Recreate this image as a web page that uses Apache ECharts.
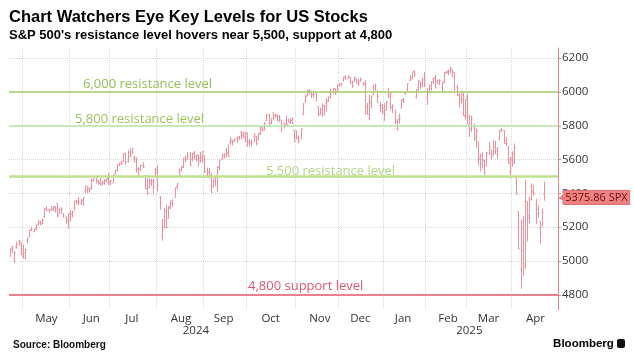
<!DOCTYPE html>
<html><head><meta charset="utf-8">
<script src="https://cdn.jsdelivr.net/npm/echarts@6/dist/echarts.min.js"></script>
<style>html,body{margin:0;padding:0;background:#fff}#c{width:634px;height:355px}</style>
</head><body><div id="c"></div>
<script>
// ---- Data (S&P 500 daily OHLC) ----
const dates = [
'2024-04-23','2024-04-24','2024-04-25','2024-04-26','2024-04-29','2024-04-30',
'2024-05-01','2024-05-02','2024-05-03','2024-05-06','2024-05-07','2024-05-08','2024-05-09','2024-05-10','2024-05-13','2024-05-14','2024-05-15','2024-05-16','2024-05-17','2024-05-20','2024-05-21','2024-05-22','2024-05-23','2024-05-24','2024-05-28','2024-05-29','2024-05-30','2024-05-31',
'2024-06-03','2024-06-04','2024-06-05','2024-06-06','2024-06-07','2024-06-10','2024-06-11','2024-06-12','2024-06-13','2024-06-14','2024-06-17','2024-06-18','2024-06-20','2024-06-21','2024-06-24','2024-06-25','2024-06-26','2024-06-27','2024-06-28',
'2024-07-01','2024-07-02','2024-07-03','2024-07-05','2024-07-08','2024-07-09','2024-07-10','2024-07-11','2024-07-12','2024-07-15','2024-07-16','2024-07-17','2024-07-18','2024-07-19','2024-07-22','2024-07-23','2024-07-24','2024-07-25','2024-07-26','2024-07-29','2024-07-30','2024-07-31',
'2024-08-01','2024-08-02','2024-08-05','2024-08-06','2024-08-07','2024-08-08','2024-08-09','2024-08-12','2024-08-13','2024-08-14','2024-08-15','2024-08-16','2024-08-19','2024-08-20','2024-08-21','2024-08-22','2024-08-23','2024-08-26','2024-08-27','2024-08-28','2024-08-29','2024-08-30',
'2024-09-03','2024-09-04','2024-09-05','2024-09-06','2024-09-09','2024-09-10','2024-09-11','2024-09-12','2024-09-13','2024-09-16','2024-09-17','2024-09-18','2024-09-19','2024-09-20','2024-09-23','2024-09-24','2024-09-25','2024-09-26','2024-09-27','2024-09-30',
'2024-10-01','2024-10-02','2024-10-03','2024-10-04','2024-10-07','2024-10-08','2024-10-09','2024-10-10','2024-10-11','2024-10-14','2024-10-15','2024-10-16','2024-10-17','2024-10-18','2024-10-21','2024-10-22','2024-10-23','2024-10-24','2024-10-25','2024-10-28','2024-10-29','2024-10-30','2024-10-31',
'2024-11-01','2024-11-04','2024-11-05','2024-11-06','2024-11-07','2024-11-08','2024-11-11','2024-11-12','2024-11-13','2024-11-14','2024-11-15','2024-11-18','2024-11-19','2024-11-20','2024-11-21','2024-11-22','2024-11-25','2024-11-26','2024-11-27','2024-11-29',
'2024-12-02','2024-12-03','2024-12-04','2024-12-05','2024-12-06','2024-12-09','2024-12-10','2024-12-11','2024-12-12','2024-12-13','2024-12-16','2024-12-17','2024-12-18','2024-12-19','2024-12-20','2024-12-23','2024-12-24','2024-12-26','2024-12-27','2024-12-30','2024-12-31',
'2025-01-02','2025-01-03','2025-01-06','2025-01-07','2025-01-08','2025-01-10','2025-01-13','2025-01-14','2025-01-15','2025-01-16','2025-01-17','2025-01-21','2025-01-22','2025-01-23','2025-01-24','2025-01-27','2025-01-28','2025-01-29','2025-01-30','2025-01-31',
'2025-02-03','2025-02-04','2025-02-05','2025-02-06','2025-02-07','2025-02-10','2025-02-11','2025-02-12','2025-02-13','2025-02-14','2025-02-18','2025-02-19','2025-02-20','2025-02-21','2025-02-24','2025-02-25','2025-02-26','2025-02-27','2025-02-28',
'2025-03-03','2025-03-04','2025-03-05','2025-03-06','2025-03-07','2025-03-10','2025-03-11','2025-03-12','2025-03-13','2025-03-14','2025-03-17','2025-03-18','2025-03-19','2025-03-20','2025-03-21','2025-03-24','2025-03-25','2025-03-26','2025-03-27','2025-03-28','2025-03-31',
'2025-04-01','2025-04-02','2025-04-03','2025-04-04','2025-04-07','2025-04-08','2025-04-09','2025-04-10','2025-04-11','2025-04-14','2025-04-15','2025-04-16','2025-04-17','2025-04-21','2025-04-22','2025-04-23'
];
// [open, high, low, close]
const ohlc = [
[5028,5076,5027,5070],[5084,5089,5047,5071],[5019,5057,4990,5048],[5084,5114,5073,5100],[5114,5124,5089,5116],[5103,5110,5035,5036],
[5029,5096,5013,5018],[5049,5073,5011,5064],[5122,5139,5102,5128],[5142,5181,5142,5181],[5187,5200,5178,5187],[5173,5192,5170,5188],[5189,5215,5180,5214],[5225,5240,5209,5223],[5234,5238,5211,5221],[5221,5250,5217,5247],[5263,5311,5256,5308],[5310,5325,5296,5297],[5303,5305,5283,5303],[5305,5325,5299,5308],[5298,5324,5297,5321],[5319,5323,5287,5307],[5340,5341,5257,5268],[5282,5311,5278,5305],[5315,5315,5280,5306],[5278,5282,5256,5267],[5259,5264,5222,5235],[5244,5280,5191,5278],
[5283,5302,5234,5283],[5278,5298,5257,5291],[5314,5354,5298,5354],[5357,5362,5335,5352],[5343,5376,5331,5347],[5341,5365,5331,5361],[5353,5376,5327,5375],[5409,5447,5400,5421],[5441,5441,5403,5434],[5424,5432,5404,5431],[5431,5488,5421,5473],[5477,5487,5471,5487],[5499,5506,5459,5473],[5479,5479,5452,5465],[5459,5490,5448,5448],[5461,5472,5446,5469],[5460,5483,5451,5478],[5473,5490,5467,5483],[5488,5523,5451,5460],
[5471,5479,5446,5475],[5461,5510,5460,5509],[5514,5539,5513,5537],[5537,5570,5531,5567],[5572,5583,5562,5572],[5585,5590,5570,5577],[5591,5635,5587,5634],[5635,5642,5570,5585],[5590,5655,5583,5615],[5638,5666,5614,5631],[5644,5667,5631,5667],[5610,5622,5584,5588],[5608,5614,5522,5545],[5543,5557,5497,5505],[5544,5570,5530,5564],[5565,5585,5550,5555],[5505,5508,5425,5427],[5428,5491,5390,5399],[5433,5488,5430,5459],[5477,5487,5444,5464],[5479,5487,5396,5436],[5505,5551,5493,5522],
[5537,5567,5410,5446],[5377,5383,5302,5347],[5151,5250,5120,5186],[5207,5312,5193,5240],[5293,5331,5195,5199],[5253,5326,5250,5319],[5313,5358,5306,5344],[5358,5364,5322,5344],[5377,5435,5376,5434],[5443,5463,5421,5455],[5501,5546,5497,5543],[5531,5563,5531,5554],[5557,5608,5548,5608],[5602,5620,5585,5597],[5603,5643,5597,5621],[5637,5643,5560,5570],[5603,5641,5589,5634],[5639,5651,5602,5616],[5602,5631,5591,5625],[5624,5628,5560,5592],[5607,5646,5583,5592],[5612,5651,5582,5648],
[5623,5623,5521,5529],[5506,5552,5503,5520],[5528,5551,5488,5503],[5507,5522,5402,5408],[5442,5484,5434,5471],[5490,5497,5442,5496],[5496,5560,5406,5554],[5558,5600,5536,5596],[5605,5636,5601,5626],[5615,5636,5605,5633],[5655,5671,5614,5634],[5641,5690,5615,5618],[5703,5733,5686,5714],[5709,5716,5683,5703],[5711,5725,5704,5718],[5727,5735,5699,5733],[5733,5741,5715,5722],[5762,5767,5721,5745],[5755,5765,5730,5738],[5727,5763,5703,5762],
[5757,5758,5675,5709],[5698,5720,5678,5709],[5698,5718,5675,5699],[5737,5753,5702,5751],[5737,5739,5683,5696],[5719,5757,5714,5751],[5752,5796,5745,5792],[5778,5795,5765,5780],[5775,5822,5773,5815],[5830,5871,5829,5859],[5866,5870,5804,5815],[5816,5843,5809,5843],[5875,5879,5836,5841],[5860,5872,5848,5865],[5857,5866,5824,5853],[5833,5863,5822,5851],[5834,5835,5762,5797],[5815,5817,5784,5809],[5826,5862,5799,5808],[5833,5842,5823,5823],[5819,5847,5811,5833],[5832,5851,5810,5813],[5775,5775,5703,5705],
[5723,5772,5723,5729],[5725,5742,5696,5712],[5722,5783,5722,5782],[5864,5933,5864,5929],[5947,5983,5935,5973],[5976,6012,5976,5996],[6008,6017,5986,6001],[6003,6009,5963,5984],[5985,6008,5965,5985],[5989,5993,5946,5949],[5912,5915,5854,5871],[5867,5908,5865,5893],[5865,5932,5853,5917],[5918,5921,5860,5917],[5934,5963,5884,5949],[5944,5973,5941,5969],[5993,6020,5963,5987],[6000,6025,5992,6021],[6015,6020,5984,5999],[6004,6044,6003,6032],
[6040,6053,6035,6047],[6042,6052,6033,6050],[6069,6089,6061,6087],[6089,6099,6075,6075],[6082,6099,6079,6090],[6084,6089,6048,6053],[6058,6066,6024,6034],[6060,6092,6060,6085],[6074,6080,6051,6051],[6068,6078,6035,6051],[6063,6085,6059,6074],[6053,6057,6035,6051],[6048,6070,5867,5872],[5912,5935,5866,5867],[5843,5982,5832,5931],[5941,5978,5902,5974],[5985,6040,5981,6040],[6024,6049,6007,6037],[6006,6007,5932,5971],[5920,5941,5879,5907],[5920,5929,5868,5882],
[5903,5935,5829,5869],[5891,5949,5888,5942],[5983,6021,5961,5975],[5994,6000,5890,5909],[5910,5927,5874,5918],[5890,5890,5809,5827],[5783,5838,5773,5837],[5859,5871,5812,5843],[5905,5958,5904,5950],[5955,5964,5935,5937],[5992,6001,5984,5997],[6015,6051,6006,6049],[6069,6100,6064,6086],[6076,6118,6074,6119],[6121,6128,6088,6101],[5969,6017,5962,6012],[6026,6069,6001,6068],[6058,6063,6018,6039],[6050,6086,6028,6071],[6096,6120,6030,6041],
[5969,6022,5923,5995],[5998,6042,5990,6037],[6021,6062,6007,6061],[6072,6084,6047,6084],[6083,6101,6019,6026],[6060,6073,6048,6066],[6049,6076,6042,6068],[6025,6063,6003,6052],[6060,6117,6052,6115],[6115,6127,6107,6115],[6121,6129,6099,6129],[6118,6147,6111,6144],[6134,6134,6085,6117],[6114,6114,6008,6013],[6026,6043,5977,5983],[5982,5992,5908,5955],[5970,6009,5933,5956],[5981,5994,5858,5861],[5857,5959,5837,5955],
[5968,5987,5810,5850],[5811,5865,5733,5778],[5781,5860,5762,5843],[5786,5812,5711,5739],[5726,5783,5667,5770],[5705,5705,5565,5615],[5604,5636,5528,5572],[5624,5642,5546,5599],[5594,5598,5505,5522],[5563,5645,5563,5639],[5635,5704,5629,5675],[5655,5655,5598,5615],[5632,5716,5622,5675],[5646,5711,5632,5663],[5630,5670,5604,5668],[5718,5775,5718,5768],[5775,5786,5764,5777],[5771,5772,5694,5712],[5696,5732,5682,5693],[5679,5679,5572,5581],[5527,5612,5489,5612],
[5597,5650,5558,5633],[5581,5695,5572,5671],[5493,5501,5390,5397],[5292,5292,5069,5074],[4953,5246,4835,5062],[5193,5267,4910,4982],[4967,5482,4950,5457],[5353,5353,5115,5268],[5256,5381,5220,5363],[5441,5460,5358,5406],[5412,5450,5386,5397],[5335,5367,5220,5276],[5305,5328,5255,5283],[5232,5232,5101,5158],[5208,5309,5207,5288],[5395,5470,5357,5375.86]
];
const levelValues = [6000, 5800, 5500, 4800];
const levelTexts = ['6,000 resistance level', '5,800 resistance level', '5,500 resistance level', '4,800 support level'];
const tickerName = 'SPX';
const monthNames = ['Jan','Feb','Mar','Apr','May','Jun','Jul','Aug','Sep','Oct','Nov','Dec'];

// ---- Presentation ----
const padDays = 6;
const levelStyles = [
  {color:'#a3cf68', width:1.6, text:'#93bd55', dx:74, dy:1},
  {color:'#b4e4a2', width:1.6, text:'#99c45c', dx:66, dy:0},
  {color:'#bfe08e', width:2.6, text:'#b3d585', dx:257, dy:-1},
  {color:'#e8808f', width:2.2, text:'#d9566f', dx:239, dy:2}
];
const barColor = '#ec8f9e';

const cats = dates.concat(Array.from({length: padDays}, (_, i) => 'pad' + (i + 1)));
const lastYear = dates[dates.length - 1].slice(0, 4);
const yearOf = i => i < dates.length ? dates[i].slice(0, 4) : lastYear;

const monthStart = new Set();
for (let i = 1; i < dates.length; i++) if (dates[i].slice(0, 7) !== dates[i - 1].slice(0, 7)) monthStart.add(i);
const monthLabel = new Map();
const seen = {};
dates.forEach((d, i) => {
  const k = d.slice(0, 7);
  if (!(k in seen)) seen[k] = +d.slice(8) < 16;
  if (seen[k] === true && +d.slice(8) >= 16) { seen[k] = 'done'; monthLabel.set(i, monthNames[+d.slice(5, 7) - 1]); }
});
const yearRange = {};
cats.forEach((c, i) => { const y = yearOf(i); if (!yearRange[y]) yearRange[y] = [i, i]; yearRange[y][1] = i; });
const yearLabel = new Map(Object.entries(yearRange).map(([y, r]) => [Math.floor((r[0] + r[1]) / 2), y]));

const seriesData = ohlc.map((r, i) => [i, r[0], r[1], r[2], r[3]]);
const lastClose = ohlc[ohlc.length - 1][3];

function renderItem(params, api) {
  const x = api.value(0);
  const o = api.coord([x, api.value(1)]);
  const h = api.coord([x, api.value(2)]);
  const l = api.coord([x, api.value(3)]);
  const c = api.coord([x, api.value(4)]);
  const px = Math.round(o[0]) + 0.5;
  return {type: 'group', children: [
    {type: 'line', shape: {x1: px, y1: h[1], x2: px, y2: l[1]}, style: {stroke: barColor, lineWidth: 1, fill: null}},
    {type: 'line', shape: {x1: px - 1.2, y1: o[1], x2: px, y2: o[1]}, style: {stroke: barColor, lineWidth: 1, fill: null}},
    {type: 'line', shape: {x1: px, y1: c[1], x2: px + 1.2, y2: c[1]}, style: {stroke: barColor, lineWidth: 1, fill: null}}
  ]};
}

const font = 'Open Sans';
const markData = levelValues.map((v, i) => ({
  yAxis: v,
  lineStyle: {color: levelStyles[i].color, width: levelStyles[i].width, type: 'solid'},
  label: {show: true, position: 'insideStartTop', formatter: levelTexts[i],
    color: levelStyles[i].text, fontFamily: font, fontSize: 13, lineHeight: 13,
    distance: [levelStyles[i].dx, levelStyles[i].dy]}
}));
markData.push({
  yAxis: lastClose,
  lineStyle: {color: 'rgba(0,0,0,0)', width: 1},
  label: {show: true, position: 'end', distance: 0,
    formatter: '{a|◀}{b|' + lastClose.toFixed(2) + ' ' + tickerName + '}',
    rich: {
      a: {color: '#e77b7f', fontSize: 8, fontFamily: 'DejaVu Sans', padding: [0, -1, 0, 0]},
      b: {color: '#6e0c0c', backgroundColor: '#ec8282', borderColor: '#d0585b', borderWidth: 0.5,
          padding: [2, 2, 1, 2], fontFamily: font, fontSize: 11, lineHeight: 13}
    }}
});

const chart = echarts.init(document.getElementById('c'), null, {renderer: 'canvas'});
chart.setOption({
  animation: false,
  backgroundColor: '#fff',
  title: [
    {text: 'Chart Watchers Eye Key Levels for US Stocks', left: 9, top: 7, padding: 0,
      textStyle: {fontFamily: 'Liberation Sans', fontWeight: 'bold', fontSize: 16.5, lineHeight: 20, color: '#000'}},
    {text: "S&P 500's resistance level hovers near 5,500, support at 4,800", left: 9, top: 27, padding: 0,
      textStyle: {fontFamily: 'Liberation Sans', fontWeight: 'bold', fontSize: 13, lineHeight: 16, color: '#000'}},
    {text: 'Source: Bloomberg', left: 13, top: 339, padding: 0,
      textStyle: {fontFamily: 'Liberation Sans', fontWeight: 'bold', fontSize: 10, lineHeight: 12, color: '#111'}},
    {text: 'Bloomberg {i|}', right: 9, top: 336.5, padding: 0,
      textStyle: {fontFamily: 'Liberation Sans', fontWeight: 'bold', fontSize: 11.5, lineHeight: 14, color: '#000',
        rich: {i: {backgroundColor: '#111', width: 8, height: 9, borderRadius: 2}}}}
  ],
  grid: {left: 9, right: 76, top: 48, bottom: 45, containLabel: false, outerBoundsMode: 'none'},
  xAxis: [{
    type: 'category', data: cats, boundaryGap: true,
    axisLine: {show: false}, axisTick: {show: false},
    splitLine: {show: true, interval: (i) => monthStart.has(i), lineStyle: {color: '#d9d9d9', type: 'dotted', width: 1}},
    axisLabel: {interval: (i) => monthLabel.has(i), formatter: (v, i) => monthLabel.get(i) || '',
      color: '#333', fontFamily: font, fontSize: 11.5, margin: 3, hideOverlap: false}
  }, {
    type: 'category', data: cats, boundaryGap: true, position: 'bottom', offset: 12,
    axisLine: {show: false}, axisTick: {show: false}, splitLine: {show: false},
    axisLabel: {interval: (i) => yearLabel.has(i), formatter: (v, i) => yearLabel.get(i) || '',
      color: '#333', fontFamily: font, fontSize: 11.5, margin: 3, hideOverlap: false}
  }],
  yAxis: {
    type: 'value', position: 'right', min: 4710, max: 6260, splitNumber: 8, scale: true,
    axisLine: {show: true, lineStyle: {color: '#e3868b', width: 1}},
    axisTick: {show: true, length: 3, lineStyle: {color: '#e3868b'}},
    axisLabel: {showMinLabel: false, showMaxLabel: false, formatter: v => (v % 200 === 0 ? String(v) : ''),
      color: '#333', fontFamily: font, fontSize: 11.5, margin: 4},
    splitLine: {show: true, showMinLine: false, showMaxLine: false, lineStyle: {color: '#d6d6d6', type: 'dotted'}}
  },
  series: [{
    type: 'custom', renderItem: renderItem, data: seriesData,
    xAxisIndex: 0, yAxisIndex: 0,
    encode: {x: 0, y: [1, 2, 3, 4]}, clip: true, silent: true,
    markLine: {symbol: 'none', silent: true, animation: false, data: markData}
  }]
});
</script>
</body></html>
